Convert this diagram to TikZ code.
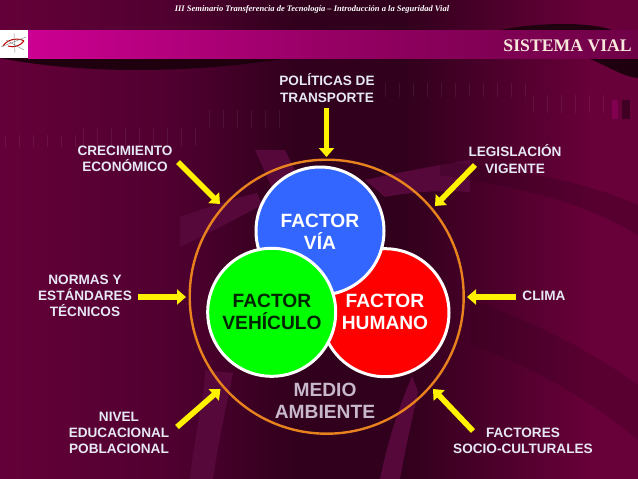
\documentclass[tikz,border=0pt]{standalone}
\usepackage{fontspec}
\setmainfont{Liberation Sans}
\newfontfamily\serifface{Liberation Serif}
\usetikzlibrary{arrows.meta}
\definecolor{wineL}{HTML}{640039}
\definecolor{wineM}{HTML}{500030}
\definecolor{wineD}{HTML}{30001C}
\definecolor{wineR}{HTML}{680039}
\definecolor{ribbon}{HTML}{56083A}
\definecolor{swoosh}{HTML}{1E000F}
\definecolor{bandL}{HTML}{CC0092}
\definecolor{bandM}{HTML}{960064}
\definecolor{bandR}{HTML}{6E0046}
\definecolor{labelc}{HTML}{E6E8F4}
\definecolor{ringc}{HTML}{E8821E}
\definecolor{medioc}{HTML}{C8B8CC}
\definecolor{arrowc}{HTML}{FFF200}
\tikzset{
  lab/.style={text=labelc,font=\fontsize{13.6}{16.2}\selectfont\bfseries,align=center,inner sep=0pt},
  facl/.style={font=\fontsize{19.2}{22.5}\selectfont\bfseries,align=center,inner sep=0pt},
  disc/.style={circle,draw=white,line width=3pt,minimum size=128pt,inner sep=0pt},
  inflow/.style={draw=arrowc,line width=5.6pt,-{Triangle[length=9pt,width=15pt]}},
  tick/.style={draw=white,draw opacity=.07,line width=.5pt},
}
\begin{document}
\begin{tikzpicture}[x=1pt,y=-1pt]
\useasboundingbox (0,0) rectangle (638,479);
% background
\fill[wineD] (0,0) rectangle (638,479);
\shade[left color=wineL,right color=wineM] (0,0) rectangle (170,479);
\shade[left color=wineM,right color=wineD] (170,0) rectangle (300,479);
\shade[left color=wineD,right color=wineR] (400,0) rectangle (590,479);
\fill[wineR] (590,0) rectangle (638,479);
% ribbons
\fill[ribbon] (180,217) .. controls (205,208) and (235,198) .. (257,193) -- (262,205) -- (228,223) .. controls (210,232) and (195,240) .. (180,247) -- cycle;
\fill[ribbon] (255,150) -- (285,150) -- (297,175) -- (272,188) -- cycle;
\fill[ribbon] (365,180) .. controls (400,172) and (440,165) .. (470,160) -- (470,192) .. controls (440,190) and (410,192) .. (385,197) -- cycle;
\fill[ribbon] (190,479) .. controls (195,430) and (205,395) .. (205,370) -- (233,373) .. controls (225,410) and (218,445) .. (213,479) -- cycle;
\fill[ribbon] (380,479) .. controls (388,440) and (398,410) .. (412,376) -- (418,392) .. controls (412,420) and (405,450) .. (400,479) -- cycle;
\fill[wineD,opacity=.3] (440,175) .. controls (500,185) and (570,195) .. (638,235) -- (638,205) .. controls (570,175) and (500,170) .. (440,160) -- cycle;
\fill[wineD,opacity=.25] (470,300) .. controls (530,320) and (590,350) .. (638,385) -- (638,440) .. controls (590,400) and (530,365) .. (470,345) -- cycle;
% faint ticks
\foreach \x in {5,19,...,75} \draw[tick] (\x,135) -- (\x,147);
\foreach \x in {83,97,...,195} \draw[tick] (\x,128) -- (\x,146);
\foreach \x in {209,223,...,279} \draw[tick] (\x,110) -- (\x,128);
\foreach \x in {385,399,...,525} \draw[tick] (\x,83) -- (\x,97);
\foreach \x in {533,547,...,610} \draw[tick] (\x,95) -- (\x,113);
\fill[wineD,opacity=.7] (622,100) rectangle (630,119);
\fill[bandL,opacity=.25] (612,100) rectangle (618,119);
% swooshes
\fill[swoosh] (0,58) .. controls (80,74) and (190,74) .. (290,58) -- cycle;
\fill[swoosh] (500,30) .. controls (540,22) and (590,22) .. (612,30) -- cycle;
\fill[swoosh] (587,58) .. controls (605,64) and (620,76) .. (638,78) -- (638,58) -- cycle;
% band
\shade[left color=bandL,right color=bandM] (28,30) rectangle (330,58);
\shade[left color=bandM,right color=bandR] (330,30) rectangle (638,58);
% logo
\fill[white] (0,30) rectangle (28,58);
\draw[red!75!black,line width=1pt] (3,46) .. controls (8,38) and (20,38) .. (24,41);
\draw[red!75!black,line width=1pt] (8,46) .. controls (14,48) and (20,46) .. (24,41);
\draw[gray,line width=.4pt] (1,47) -- (26,37) (14,33) -- (15,53) (6,40) -- (24,50);
% title texts
\node[text=white,font=\fontsize{8.5}{11}\selectfont\serifface\bfseries\itshape,inner sep=0pt] (seminar) at (312,9) {III Seminario Transferencia de Tecnología – Introducción a la Seguridad Vial};
\node[text={rgb,255:red,248;green,232;blue,220},font=\fontsize{17.7}{20}\selectfont\serifface\bfseries,inner sep=0pt,anchor=east] (sistema) at (632,46) {SISTEMA VIAL};
% ring
\node[circle,draw=ringc,line width=2.4pt,minimum size=274pt,inner sep=0pt] (ring) at (326.7,296.7) {};
% discs
\node[disc,fill=red] (humano) at (385,312.7) {};
\node[disc,fill={rgb,255:red,51;green,102;blue,255}] (via) at (320,231) {};
\node[disc,fill={rgb,255:red,0;green,255;blue,0}] (vehiculo) at (271.7,312.3) {};
\node[facl,text=white] (tvia) at (320,232) {FACTOR\\VÍA};
\node[facl,text=black!85!green] (tveh) at (272,312) {FACTOR\\VEHÍCULO};
\node[facl,text=white] (thum) at (385,312) {FACTOR\\HUMANO};
\node[facl,text=medioc] (medio) at (325,401) {MEDIO\\AMBIENTE};
% labels
\node[lab] (pol) at (327,88) {POLÍTICAS DE\\TRANSPORTE};
\node[lab] (cre) at (125,159) {CRECIMIENTO\\ECONÓMICO};
\node[lab] (leg) at (515,159) {LEGISLACIÓN\\VIGENTE};
\node[lab] (nor) at (85,296) {NORMAS Y\\ESTÁNDARES\\TÉCNICOS};
\node[lab] (cli) at (544,296) {CLIMA};
\node[lab] (niv) at (119,433) {NIVEL\\EDUCACIONAL\\POBLACIONAL};
\node[lab] (fac) at (523,441) {FACTORES\\SOCIO-CULTURALES};
% arrow ends
\coordinate (a1s) at (326.5,108); \coordinate (a1e) at (326.5,157);
\coordinate (a2s) at (178,162);   \coordinate (a2e) at (220,204);
\coordinate (a3s) at (475,165);   \coordinate (a3e) at (435,206);
\coordinate (a4s) at (138,297);   \coordinate (a4e) at (186,297);
\coordinate (a5s) at (516,297);   \coordinate (a5e) at (467,297);
\coordinate (a6s) at (177,427);   \coordinate (a6e) at (220.5,389);
\coordinate (a7s) at (473,431);   \coordinate (a7e) at (433,389);
\foreach \k in {1,...,7} \draw[inflow] (a\k s) -- (a\k e);
\end{tikzpicture}
\end{document}
